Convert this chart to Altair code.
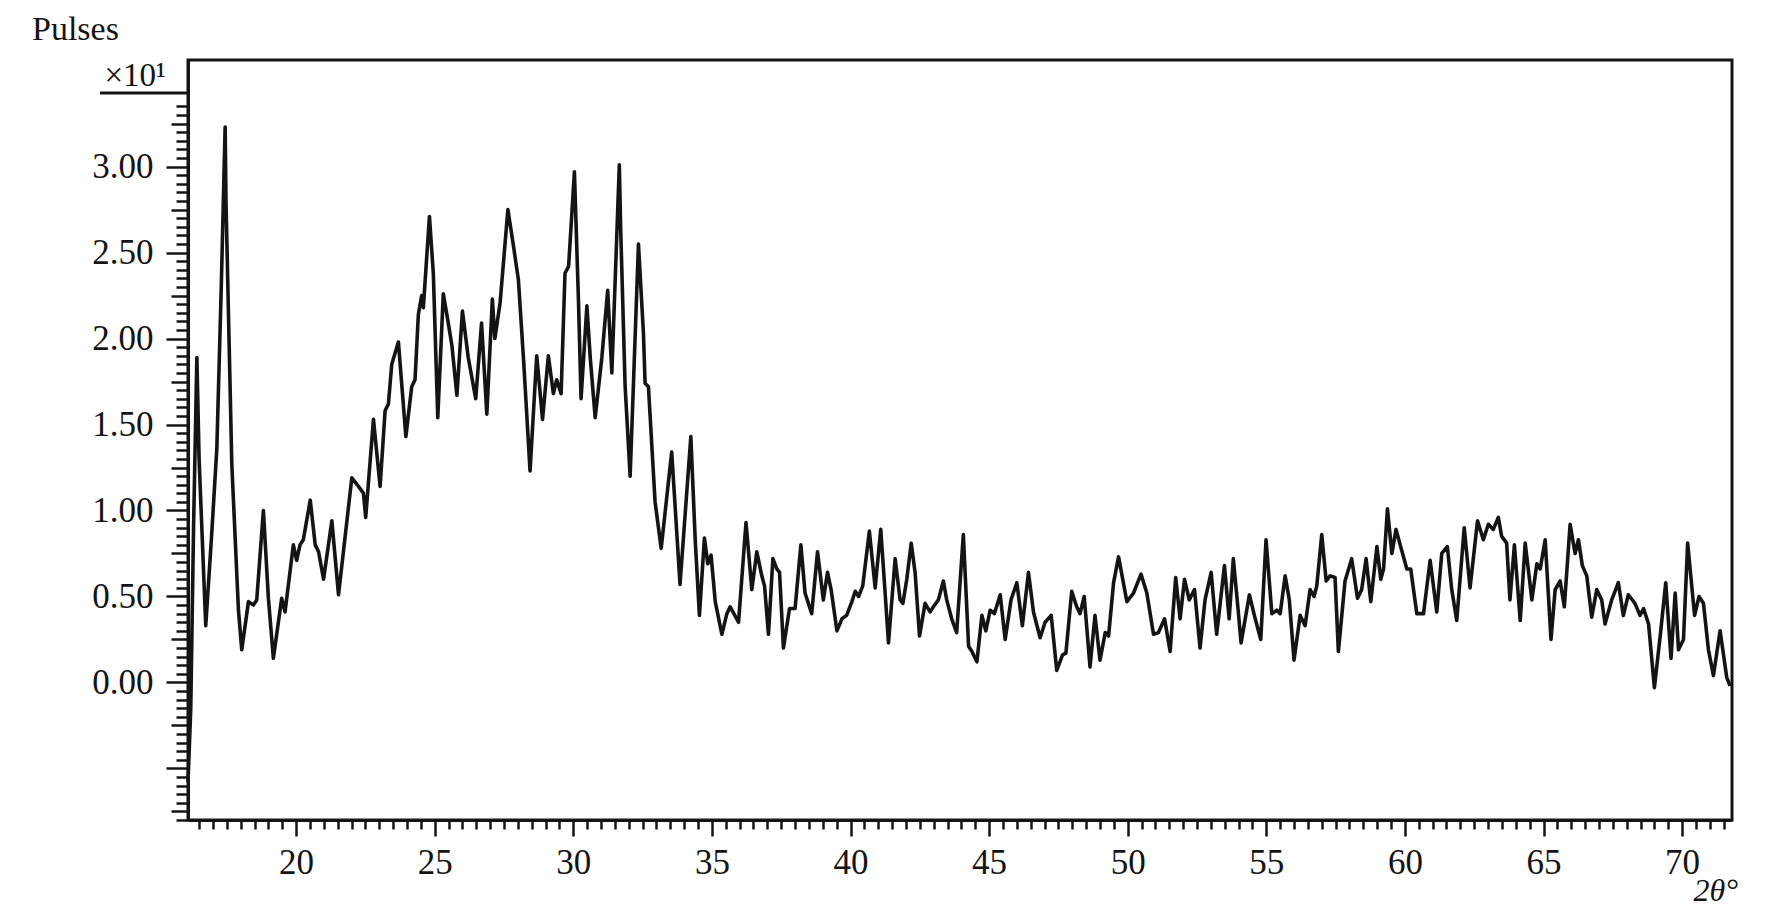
import altair as alt
import pandas as pd

# ---- XRD trace (2theta in degrees, intensity in x10^1 pulses) ----
seg_a_theta = [16.10, 16.20, 16.30, 16.42, 16.50, 16.74, 16.95, 17.14, 17.30, 17.44, 17.47, 17.68,
               17.92, 18.04, 18.28, 18.46, 18.58, 18.82, 19.00, 19.18, 19.48, 19.60, 19.90, 20.02,
               20.14, 20.26, 20.51, 20.69, 20.81, 20.99, 21.29, 21.53, 22.01, 22.25, 22.43, 22.51,
               22.79, 23.03, 23.21, 23.33, 23.45, 23.69, 23.96, 24.17, 24.29, 24.41, 24.53, 24.59,
               24.81, 24.95, 25.11, 25.31, 25.49, 25.62, 25.80]
seg_a_counts = [-0.58, -0.15, 0.90, 1.89, 1.30, 0.33, 0.85, 1.36, 2.30, 3.23, 2.80, 1.27,
                0.42, 0.19, 0.47, 0.45, 0.48, 1.00, 0.49, 0.14, 0.49, 0.41, 0.80, 0.71,
                0.80, 0.83, 1.06, 0.80, 0.76, 0.60, 0.94, 0.51, 1.19, 1.14, 1.10, 0.96,
                1.53, 1.14, 1.58, 1.62, 1.85, 1.98, 1.43, 1.72, 1.76, 2.14, 2.25, 2.18,
                2.71, 2.38, 1.54, 2.26, 2.09, 1.96, 1.67]

seg_b_theta = [26.00, 26.21, 26.48, 26.69, 26.88, 27.08, 27.17, 27.36, 27.64, 27.84, 28.02, 28.20,
               28.44, 28.68, 28.89, 29.10, 29.28, 29.40, 29.56, 29.70, 29.83, 30.04, 30.19, 30.28,
               30.49, 30.61, 30.79, 31.03, 31.24, 31.39, 31.66, 31.71, 31.87, 32.05, 32.35, 32.53,
               32.59, 32.71, 32.95, 33.17, 33.55, 33.85, 34.24, 34.40, 34.55, 34.73, 34.85, 34.97,
               35.12, 35.36, 35.54]
seg_b_counts = [2.16, 1.89, 1.65, 2.09, 1.56, 2.23, 2.00, 2.21, 2.75, 2.54, 2.34, 1.89,
                1.23, 1.90, 1.53, 1.90, 1.68, 1.76, 1.68, 2.38, 2.42, 2.97, 2.20, 1.65,
                2.19, 1.89, 1.54, 1.89, 2.28, 1.80, 3.01, 2.63, 1.72, 1.20, 2.55, 2.03,
                1.74, 1.72, 1.05, 0.78, 1.34, 0.57, 1.43, 0.82, 0.39, 0.84, 0.69, 0.74,
                0.47, 0.28, 0.40]

seg_c_theta = [35.66, 35.96, 36.23, 36.44, 36.62, 36.80, 36.90, 37.04, 37.20, 37.34, 37.44, 37.58,
               37.80, 38.00, 38.21, 38.36, 38.60, 38.81, 39.02, 39.17, 39.30, 39.51, 39.69, 39.86,
               40.05, 40.17, 40.29, 40.44, 40.68, 40.89, 41.09, 41.19, 41.37, 41.61, 41.79, 41.89,
               42.03, 42.19, 42.33, 42.49, 42.69, 42.87, 42.99, 43.17, 43.35, 43.47, 43.65, 43.83,
               44.07, 44.26, 44.38, 44.56, 44.74]
seg_c_counts = [0.44, 0.35, 0.93, 0.54, 0.76, 0.62, 0.56, 0.28, 0.72, 0.66, 0.64, 0.20,
                0.43, 0.43, 0.80, 0.52, 0.40, 0.76, 0.48, 0.64, 0.54, 0.30, 0.37, 0.39,
                0.47, 0.53, 0.50, 0.56, 0.88, 0.55, 0.89, 0.66, 0.23, 0.72, 0.48, 0.46,
                0.60, 0.81, 0.64, 0.27, 0.46, 0.41, 0.44, 0.48, 0.59, 0.48, 0.37, 0.29,
                0.86, 0.21, 0.18, 0.12, 0.39]

seg_d_theta = [44.88, 45.04, 45.19, 45.40, 45.58, 45.79, 46.00, 46.20, 46.42, 46.60, 46.84, 47.02,
               47.24, 47.44, 47.65, 47.77, 47.98, 48.16, 48.28, 48.43, 48.64, 48.82, 49.00, 49.19,
               49.31, 49.49, 49.67, 49.97, 50.21, 50.48, 50.69, 50.93, 51.11, 51.33, 51.53, 51.73,
               51.89, 52.05, 52.22, 52.41, 52.61, 52.79, 53.01, 53.21, 53.49, 53.66, 53.81, 53.99,
               54.09]
seg_d_counts = [0.30, 0.42, 0.40, 0.51, 0.25, 0.48, 0.58, 0.33, 0.64, 0.41, 0.26, 0.35,
                0.39, 0.07, 0.16, 0.17, 0.53, 0.44, 0.40, 0.50, 0.09, 0.39, 0.13, 0.29,
                0.27, 0.58, 0.73, 0.47, 0.52, 0.63, 0.52, 0.28, 0.29, 0.37, 0.18, 0.61,
                0.37, 0.60, 0.48, 0.54, 0.20, 0.48, 0.64, 0.28, 0.68, 0.37, 0.72, 0.41,
                0.23]

seg_e_theta = [54.39, 54.60, 54.80, 54.99, 55.20, 55.38, 55.50, 55.68, 55.83, 56.00, 56.22, 56.40,
               56.58, 56.72, 56.82, 57.00, 57.16, 57.30, 57.48, 57.60, 57.84, 58.08, 58.29, 58.44,
               58.60, 58.77, 58.99, 59.13, 59.23, 59.37, 59.53, 59.68, 59.83, 60.07, 60.21, 60.43,
               60.67, 60.91, 61.15, 61.33, 61.53, 61.69, 61.87, 62.14, 62.35, 62.62, 62.83, 63.01,
               63.19, 63.37]
seg_e_counts = [0.51, 0.37, 0.25, 0.83, 0.40, 0.42, 0.40, 0.62, 0.48, 0.13, 0.39, 0.33,
                0.54, 0.50, 0.56, 0.86, 0.59, 0.62, 0.61, 0.18, 0.59, 0.72, 0.49, 0.54,
                0.72, 0.47, 0.79, 0.60, 0.66, 1.01, 0.75, 0.89, 0.80, 0.66, 0.66, 0.40,
                0.40, 0.71, 0.41, 0.75, 0.79, 0.54, 0.36, 0.90, 0.55, 0.94, 0.83, 0.92,
                0.89, 0.96]

seg_f_theta = [63.49, 63.67, 63.79, 63.95, 64.16, 64.34, 64.58, 64.76, 64.88, 65.06, 65.27, 65.42,
               65.60, 65.75, 65.96, 66.14, 66.26, 66.40, 66.56, 66.74, 66.92, 67.10, 67.22, 67.46,
               67.70, 67.88, 68.06, 68.30, 68.48, 68.61, 68.79, 69.00, 69.21, 69.41, 69.60, 69.75,
               69.87, 70.05, 70.20, 70.45, 70.61, 70.77, 70.95, 71.13, 71.37, 71.61, 71.73]
seg_f_counts = [0.85, 0.81, 0.48, 0.80, 0.36, 0.81, 0.48, 0.69, 0.66, 0.83, 0.25, 0.54,
                0.59, 0.44, 0.92, 0.75, 0.83, 0.68, 0.62, 0.38, 0.54, 0.48, 0.34, 0.48,
                0.58, 0.39, 0.51, 0.46, 0.39, 0.43, 0.34, -0.03, 0.27, 0.58, 0.14, 0.52,
                0.19, 0.25, 0.81, 0.39, 0.50, 0.46, 0.19, 0.04, 0.30, 0.03, -0.02]

# ---- axis ticks and labels ----
x_tick_values = [round(16.5 + 0.5 * i, 1) for i in range(111)]     # 16.5 ... 71.5
y_tick_values = [round(-0.80 + 0.05 * i, 2) for i in range(84)]     # -0.80 ... 3.35
x_domain = [16.10, 71.80]
y_domain = [-0.80, 3.62]
y_title = "×10¹"
x_title = "2θ°"
corner_label = ["Pulses"]

theta = (seg_a_theta + seg_b_theta + seg_c_theta + seg_d_theta + seg_e_theta + seg_f_theta)
counts = (seg_a_counts + seg_b_counts + seg_c_counts + seg_d_counts + seg_e_counts + seg_f_counts)
df = pd.DataFrame({"theta": theta, "counts": counts, "order": list(range(len(theta)))})

FONT = "Liberation Serif"
INK = "#141414"

x_major = "abs(datum.value/5-round(datum.value/5))<0.001"
y_major = "abs(datum.value*2-round(datum.value*2))<0.001"
y_medium = "abs(datum.value*4-round(datum.value*4))<0.001"

x_axis = alt.Axis(
    values=x_tick_values,
    labelExpr=f"{x_major} ? format(datum.value,'d') : ''",
    tickSize={"condition": {"test": x_major, "value": 16}, "value": 9},
    tickWidth=2.5, tickColor=INK,
    domainColor=INK, domainWidth=3,
    labelFont=FONT, labelFontSize=35, labelColor=INK, labelPadding=9,
    labelOverlap=False, labelFlush=False, grid=False,
    title=x_title, titleFont=FONT, titleFontSize=32, titleFontStyle="italic",
    titleFontWeight="normal", titleColor=INK,
    titleX=1505, titleY=80, titleAlign="left", titleBaseline="alphabetic", titleAngle=0,
)

y_axis = alt.Axis(
    values=y_tick_values,
    labelExpr=f"({y_major} && datum.value>-0.001 && datum.value<3.001) ? format(datum.value,'.2f') : ''",
    tickSize={"condition": [{"test": y_major, "value": 22}, {"test": y_medium, "value": 17}],
              "value": 12},
    tickWidth=2.5, tickColor=INK,
    domainColor=INK, domainWidth=3,
    labelFont=FONT, labelFontSize=35, labelColor=INK, labelPadding=13,
    labelOverlap=False, labelFlush=False, grid=False,
    title=y_title, titleFont=FONT, titleFontSize=33, titleFontWeight="normal", titleColor=INK,
    titleX=-84, titleY=25, titleAlign="left", titleBaseline="alphabetic", titleAngle=0,
)

line = alt.Chart(df).mark_line(color=INK, strokeWidth=3.6, strokeJoin="round").encode(
    x=alt.X("theta:Q", scale=alt.Scale(domain=x_domain, nice=False, zero=False), axis=x_axis),
    y=alt.Y("counts:Q", scale=alt.Scale(domain=y_domain, nice=False, zero=False), axis=y_axis),
    order="order:Q",
)

label_df = pd.DataFrame({"t": corner_label})
pulses = alt.Chart(label_df).mark_text(
    font=FONT, fontSize=34, color=INK, align="left", baseline="alphabetic"
).encode(text="t:N", x=alt.value(-156), y=alt.value(-20))

underline = alt.Chart(label_df).mark_rule(color=INK, strokeWidth=3).encode(
    x=alt.value(-88), x2=alt.value(0), y=alt.value(33)
)

chart = alt.layer(line, pulses, underline).properties(
    width=1544, height=760,
    padding={"left": 180, "top": 52, "right": 35, "bottom": 87},
    autosize=alt.AutoSizeParams(type="none"),
    background="white",
).configure_view(stroke=INK, strokeWidth=3)

chart.save("out.html", embed_options={"renderer": "svg", "actions": False})
